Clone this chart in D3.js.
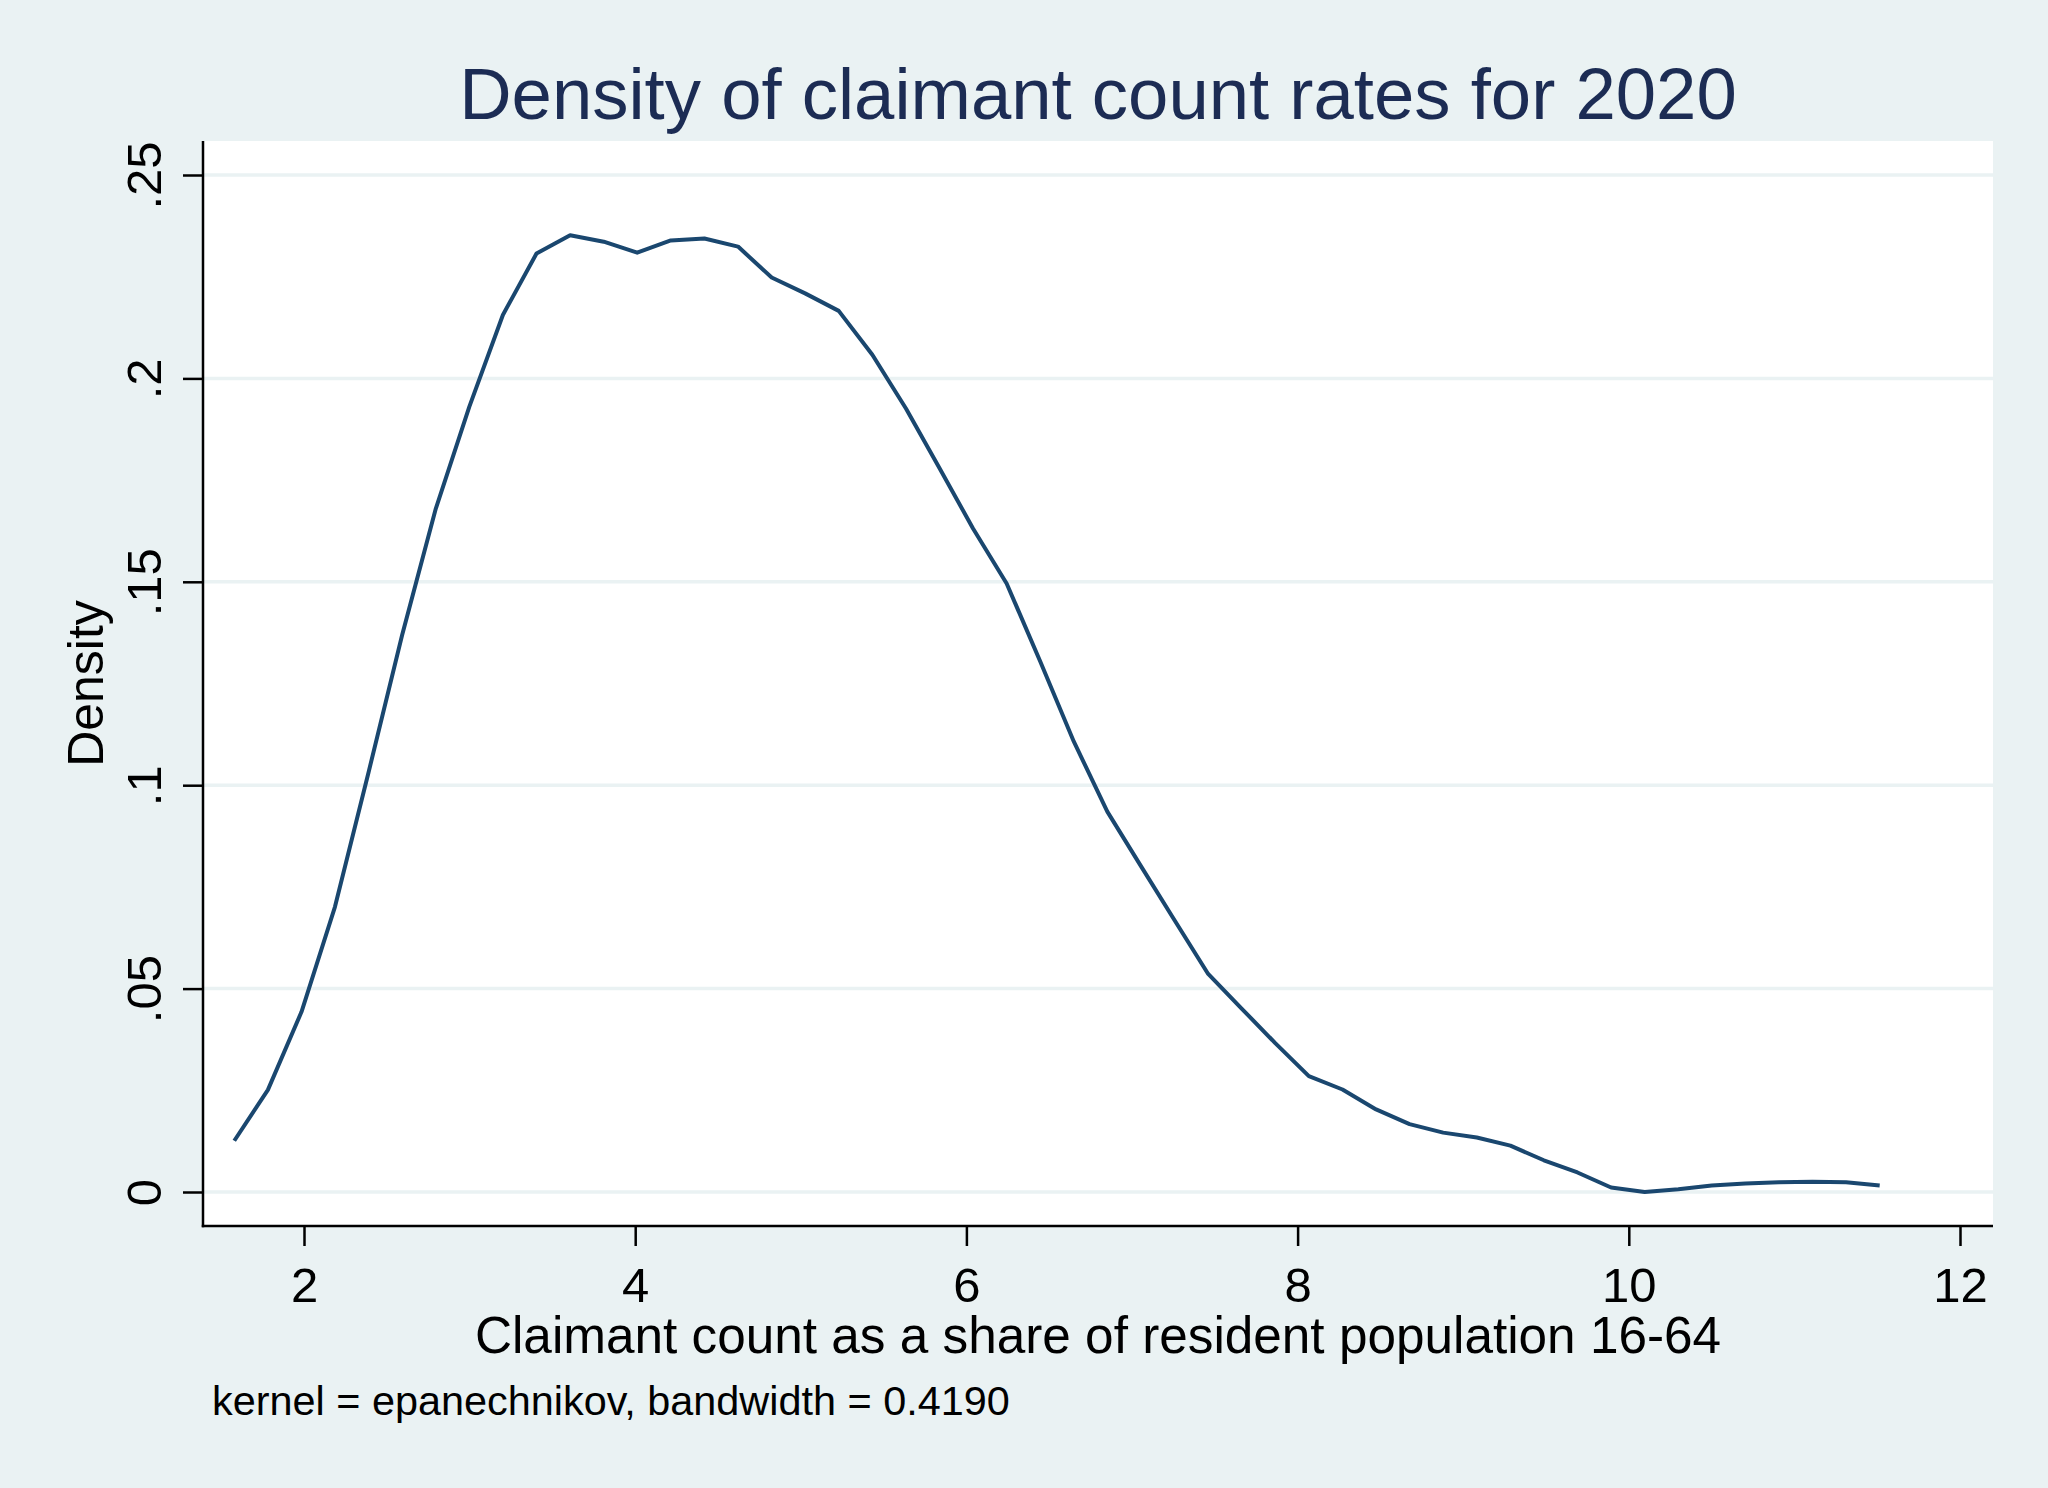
<!DOCTYPE html>
<html>
<head>
<meta charset="utf-8">
<script src="https://cdn.jsdelivr.net/npm/d3@7"></script>
<style>
  html, body { margin: 0; padding: 0; background: #eaf2f3; }
  svg { display: block; font-family: "Liberation Sans", Arial, sans-serif; }
</style>
</head>
<body>
<div id="chart"></div>
<script>
// kernel density estimate, 50 evaluation points
var rateX = [1.579, 1.782, 1.985, 2.187, 2.390, 2.593, 2.796, 2.998, 3.201, 3.404,
             3.607, 3.810, 4.012, 4.215, 4.418, 4.621, 4.824, 5.026, 5.229, 5.432,
             5.635, 5.837, 6.040, 6.243, 6.446, 6.649, 6.851, 7.054, 7.257, 7.460,
             7.662, 7.865, 8.068, 8.271, 8.474, 8.676, 8.879, 9.082, 9.285, 9.487,
             9.690, 9.893, 10.096, 10.299, 10.501, 10.704, 10.907, 11.110, 11.312, 11.515];
var densityY = [0.0126, 0.0251, 0.0443, 0.0701, 0.1032, 0.1370, 0.1680, 0.1930, 0.2156, 0.2307,
                0.2352, 0.2336, 0.2309, 0.2339, 0.2344, 0.2324, 0.2248, 0.2209, 0.2166, 0.2058,
                0.1926, 0.1780, 0.1631, 0.1496, 0.1304, 0.1107, 0.0935, 0.0801, 0.0668, 0.0536,
                0.0451, 0.0366, 0.0285, 0.0252, 0.0203, 0.0167, 0.0146, 0.0134, 0.0114, 0.0078,
                0.0048, 0.0011, 0.0000, 0.0007, 0.0016, 0.0021, 0.0024, 0.0025, 0.0024, 0.0016];

var xTicks = [2, 4, 6, 8, 10, 12];
var yTicks = [0, 0.05, 0.1, 0.15, 0.2, 0.25];
var yTickLabels = ["0", ".05", ".1", ".15", ".2", ".25"];

var titleText = "Density of claimant count rates for 2020";
var xTitle = "Claimant count as a share of resident population 16-64";
var yTitle = "Density";
var noteText = "kernel = epanechnikov, bandwidth = 0.4190";

var width = 2048,
    height = 1488;

// plot region (white box) in pixels
var plot = {left: 203, right: 1993, top: 141, bottom: 1226};

var x = d3.scaleLinear().domain([2, 12]).range([304, 1960]);
var y = d3.scaleLinear().domain([0, 0.25]).range([1192, 175]);

var svg = d3.select("#chart").append("svg")
    .attr("width", width)
    .attr("height", height);

svg.append("rect")
    .attr("width", width)
    .attr("height", height)
    .attr("fill", "#eaf2f3");

svg.append("rect")
    .attr("x", plot.left)
    .attr("y", plot.top)
    .attr("width", plot.right - plot.left)
    .attr("height", plot.bottom - plot.top)
    .attr("fill", "#ffffff");

// horizontal grid lines
svg.append("g")
    .selectAll("line")
    .data(yTicks)
    .enter().append("line")
    .attr("x1", plot.left)
    .attr("x2", plot.right)
    .attr("y1", function(d) { return y(d); })
    .attr("y2", function(d) { return y(d); })
    .attr("stroke", "#eaf2f3")
    .attr("stroke-width", 3.5);

// the density curve
var line = d3.line()
    .x(function(d, i) { return x(rateX[i]); })
    .y(function(d) { return y(d); });

svg.append("path")
    .datum(densityY)
    .attr("d", line)
    .attr("fill", "none")
    .attr("stroke", "#1a476f")
    .attr("stroke-width", 4)
    .attr("stroke-linejoin", "round");

// ****************** axes ***************************

var yAxis = d3.axisLeft(y)
    .tickValues(yTicks)
    .tickSize(20)
    .tickSizeOuter(0)
    .tickFormat(function(d, i) { return yTickLabels[i]; });

var gy = svg.append("g")
    .attr("transform", "translate(" + plot.left + ",0)")
    .call(yAxis);

gy.select(".domain").remove();
gy.selectAll(".tick line").attr("stroke", "#000").attr("stroke-width", 2.5);
gy.selectAll(".tick text")
    .attr("x", 0)
    .attr("dy", 0)
    .attr("text-anchor", "middle")
    .attr("transform", "translate(-42,0) rotate(-90)")
    .attr("fill", "#000")
    .style("font-family", "Liberation Sans, Arial, sans-serif")
    .style("font-size", "49px");

var xAxis = d3.axisBottom(x)
    .tickValues(xTicks)
    .tickSize(20)
    .tickSizeOuter(0);

var gx = svg.append("g")
    .attr("transform", "translate(0," + plot.bottom + ")")
    .call(xAxis);

gx.select(".domain").remove();
gx.selectAll(".tick line").attr("stroke", "#000").attr("stroke-width", 2.5);
gx.selectAll(".tick text")
    .attr("y", 76)
    .attr("dy", 0)
    .attr("fill", "#000")
    .style("font-family", "Liberation Sans, Arial, sans-serif")
    .style("font-size", "49px");

// axis lines span the whole plot region
svg.append("line")
    .attr("x1", plot.left).attr("x2", plot.left)
    .attr("y1", plot.top).attr("y2", plot.bottom + 1.25)
    .attr("stroke", "#000").attr("stroke-width", 2.5);

svg.append("line")
    .attr("x1", plot.left - 1.25).attr("x2", plot.right)
    .attr("y1", plot.bottom).attr("y2", plot.bottom)
    .attr("stroke", "#000").attr("stroke-width", 2.5);

// ****************** titles ***************************

var midX = (plot.left + plot.right) / 2;

svg.append("text")
    .attr("x", midX)
    .attr("y", 119)
    .attr("text-anchor", "middle")
    .attr("fill", "#1c2c54")
    .style("font-size", "72.5px")
    .text(titleText);

svg.append("text")
    .attr("x", midX)
    .attr("y", 1353)
    .attr("text-anchor", "middle")
    .attr("fill", "#000")
    .style("font-size", "51.3px")
    .text(xTitle);

svg.append("text")
    .attr("transform", "translate(103," + ((plot.top + plot.bottom) / 2) + ") rotate(-90)")
    .attr("text-anchor", "middle")
    .attr("fill", "#000")
    .style("font-size", "50px")
    .text(yTitle);

svg.append("text")
    .attr("x", 212)
    .attr("y", 1415)
    .attr("fill", "#000")
    .style("font-size", "41.4px")
    .text(noteText);
</script>
</body>
</html>
